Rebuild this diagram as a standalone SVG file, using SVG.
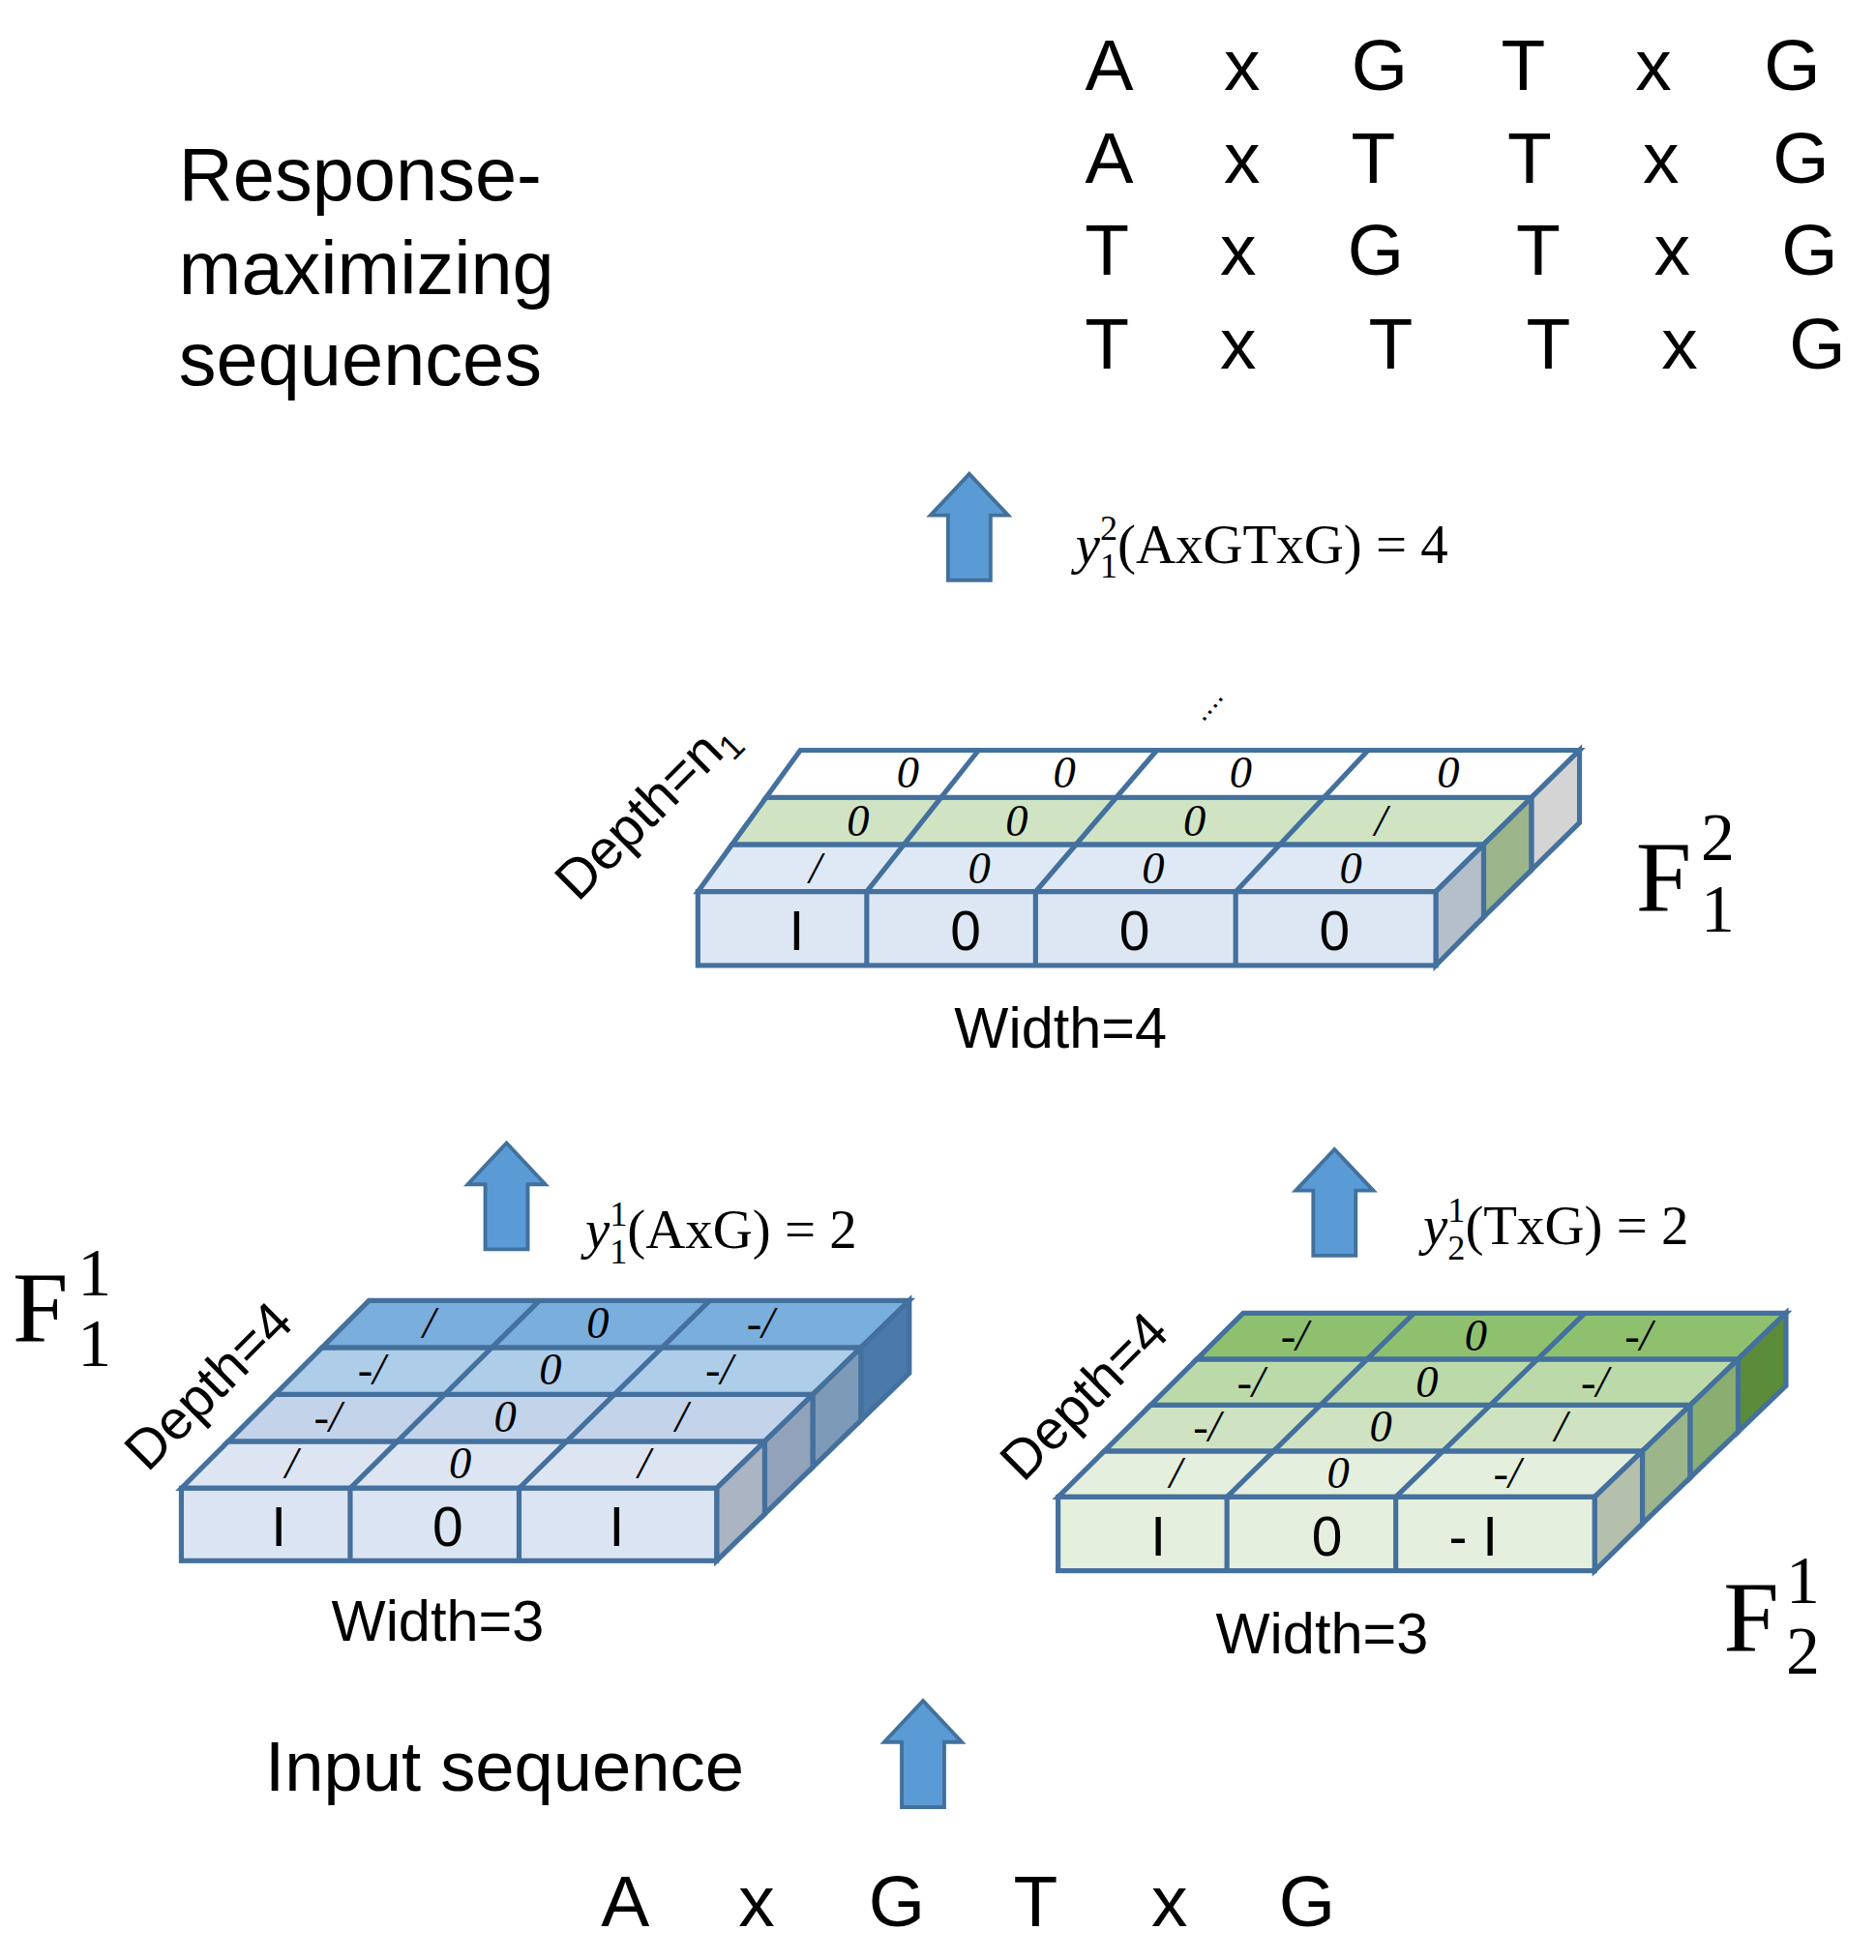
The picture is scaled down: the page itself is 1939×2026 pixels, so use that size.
<svg xmlns="http://www.w3.org/2000/svg" xmlns:xlink="http://www.w3.org/1999/xlink" width="1939" height="2026" viewBox="0 0 1939 2026">
<style>
.s{font-family:"Liberation Sans",Arial,sans-serif;fill:#000}
.m{font-family:"Liberation Serif","Times New Roman",serif;fill:#000}
.e{stroke:#44709e;stroke-width:4;stroke-linejoin:miter}
.v{font-family:"Liberation Serif",serif;font-style:italic;font-size:36px;text-anchor:middle}
.fr{font-family:"Liberation Sans",sans-serif;font-size:44px;text-anchor:middle}
.arr{fill:#5b9bd5;stroke:#41719c;stroke-width:3}
</style>
<defs>
<path id="ar" d="M0,0 L31,33 L17,33 L17,85 L-17,85 L-17,33 L-31,33 Z"/>
</defs>
<rect width="1939" height="2026" fill="#fff"/>
<g transform="scale(1.2927)">
<g id="top-text">
<text class="s" font-size="60" x="143" y="160">Response-</text>
<text class="s" font-size="60" x="143" y="235">maximizing</text>
<text class="s" font-size="60" x="143" y="308">sequences</text>
<g class="s" font-size="58" text-anchor="middle">
<text x="887" y="72">A</text><text x="993" y="72">x</text><text x="1103" y="72">G</text><text x="1218" y="72">T</text><text x="1322" y="72">x</text><text x="1433" y="72">G</text>
<text x="887" y="146">A</text><text x="993" y="146">x</text><text x="1098" y="146">T</text><text x="1223" y="146">T</text><text x="1328" y="146">x</text><text x="1440" y="146">G</text>
<text x="885" y="220">T</text><text x="990" y="220">x</text><text x="1100" y="220">G</text><text x="1230" y="220">T</text><text x="1337" y="220">x</text><text x="1447" y="220">G</text>
<text x="885" y="295">T</text><text x="990" y="295">x</text><text x="1112" y="295">T</text><text x="1238" y="295">T</text><text x="1343" y="295">x</text><text x="1453" y="295">G</text>
</g>
</g>
<g id="connectors">
<use xlink:href="#ar" class="arr" transform="translate(775,379)"/>
<use xlink:href="#ar" class="arr" transform="translate(405,914)"/>
<use xlink:href="#ar" class="arr" transform="translate(1067,919)"/>
<use xlink:href="#ar" class="arr" transform="translate(738,1360)"/>
</g>
<g id="labels-math" class="m">
<text x="860" y="450" font-size="44"><tspan font-style="italic">y</tspan><tspan font-size="28" dy="-18">2</tspan><tspan font-size="28" dx="-14" dy="30">1</tspan><tspan dy="-12">(AxGTxG) = 4</tspan></text>
<text x="468" y="998" font-size="44"><tspan font-style="italic">y</tspan><tspan font-size="28" dy="-18">1</tspan><tspan font-size="28" dx="-14" dy="30">1</tspan><tspan dy="-12">(AxG) = 2</tspan></text>
<text x="1138" y="995" font-size="44"><tspan font-style="italic">y</tspan><tspan font-size="28" dy="-18">1</tspan><tspan font-size="28" dx="-14" dy="30">2</tspan><tspan dy="-12">(TxG) = 2</tspan></text>
</g>
<g id="F12">
<polygon class="e" fill="#dfe9f5" points="558,713 1148,713 1186.3,675.3 585.3,675.3"/>
<polygon class="e" fill="#d0e4c4" points="585.3,675.3 1186.3,675.3 1224.6,637.6 612.6,637.6"/>
<polygon class="e" fill="#ffffff" points="612.6,637.6 1224.6,637.6 1262.9,599.9 639.9,599.9"/>
<polygon class="e" fill="#b4bfca" points="1148,713 1186.3,675.3 1186.3,733.3 1148,772"/>
<polygon class="e" fill="#9db58b" points="1186.3,675.3 1224.6,637.6 1224.6,695.6 1186.3,733.3"/>
<polygon class="e" fill="#d4d4d4" points="1224.6,637.6 1262.9,599.9 1262.9,657.9 1224.6,695.6"/>
<g class="e" fill="none">
<path d="M693,713 L722.8,675.3 M828,713 L860.3,675.3 M988,713 L1023.3,675.3"/>
<path d="M722.8,675.3 L752.6,637.6 M860.3,675.3 L892.6,637.6 M1023.3,675.3 L1058.6,637.6"/>
<path d="M752.6,637.6 L782.4,599.9 M892.6,637.6 L925,599.9 M1058.6,637.6 L1093.9,599.9"/>
</g>
<rect class="e" fill="#dde7f3" x="558" y="713" width="590" height="59"/>
<path class="e" d="M693,713 V772 M828,713 V772 M988,713 V772"/>
<g class="fr"><text x="637" y="760">I</text><text x="772" y="760">0</text><text x="907" y="760">0</text><text x="1067" y="760">0</text></g>
<g class="v">
<text x="652" y="706">/</text><text x="783" y="706">0</text><text x="922" y="706">0</text><text x="1080" y="706">0</text>
<text x="686" y="668">0</text><text x="813" y="668">0</text><text x="955" y="668">0</text><text x="1104" y="668">/</text>
<text x="726" y="630">0</text><text x="851" y="630">0</text><text x="992" y="630">0</text><text x="1158" y="630">0</text>
</g>
<text class="s" font-size="24" x="0" y="0" transform="translate(962,578) rotate(-50)">....</text>
<text class="s" font-size="44" transform="translate(462,722) rotate(-45)">Depth=n<tspan font-size="28" dy="8">1</tspan></text>
<text class="s" font-size="46" x="848" y="838" text-anchor="middle">Width=4</text>
<text class="m" font-size="80" x="1308" y="728">F</text>
<text class="m" font-size="54" x="1360" y="688">2</text>
<text class="m" font-size="54" x="1360" y="745">1</text>
</g>
<g id="F11">
<polygon class="e" fill="#dde5f2" points="145,1190 573,1190 611.5,1152.5 182.5,1152.5"/>
<polygon class="e" fill="#c3d3ea" points="182.5,1152.5 611.5,1152.5 650,1115 220,1115"/>
<polygon class="e" fill="#aecde9" points="220,1115 650,1115 688.5,1077.5 257.5,1077.5"/>
<polygon class="e" fill="#7aaedc" points="257.5,1077.5 688.5,1077.5 727,1040 295,1040"/>
<polygon class="e" fill="#aab4c3" points="573,1190 611.5,1152.5 611.5,1210.5 573,1248"/>
<polygon class="e" fill="#92a2bb" points="611.5,1152.5 650,1115 650,1173 611.5,1210.5"/>
<polygon class="e" fill="#7d9bb8" points="650,1115 688.5,1077.5 688.5,1135.5 650,1173"/>
<polygon class="e" fill="#4a7aaa" points="688.5,1077.5 727,1040 727,1098 688.5,1135.5"/>
<path class="e" fill="none" d="M280,1190 L317.8,1152.5 L355.6,1115 L393.4,1077.5 L431.3,1040 M415,1190 L453.1,1152.5 L491.2,1115 L529.4,1077.5 L567.5,1040"/>
<rect class="e" fill="#dbe4f2" x="145" y="1190" width="428" height="58"/>
<path class="e" d="M280,1190 V1248 M415,1190 V1248"/>
<g class="fr"><text x="223" y="1236">I</text><text x="358" y="1236">0</text><text x="493" y="1236">I</text></g>
<g class="v">
<text x="233" y="1182">/</text><text x="368" y="1182">0</text><text x="515" y="1182">/</text>
<text x="262" y="1145">-/</text><text x="404" y="1145">0</text><text x="545" y="1145">/</text>
<text x="297" y="1107">-/</text><text x="440" y="1107">0</text><text x="575" y="1107">-/</text>
<text x="343" y="1070">/</text><text x="478" y="1070">0</text><text x="608" y="1070">-/</text>
</g>
<text class="s" font-size="44" transform="translate(118,1178) rotate(-45)">Depth=4</text>
<text class="s" font-size="46" x="350" y="1312" text-anchor="middle">Width=3</text>
<text class="m" font-size="80" x="10" y="1072">F</text>
<text class="m" font-size="54" x="62" y="1036">1</text>
<text class="m" font-size="54" x="62" y="1092">1</text>
</g>
<g id="F21">
<polygon class="e" fill="#e5efdd" points="846,1197 1275,1197 1313.25,1160.25 883,1160.25"/>
<polygon class="e" fill="#cfe3c2" points="883,1160.25 1313.25,1160.25 1351.5,1123.5 920,1123.5"/>
<polygon class="e" fill="#bcdaa9" points="920,1123.5 1351.5,1123.5 1389.75,1086.75 957,1086.75"/>
<polygon class="e" fill="#8fc06e" points="957,1086.75 1389.75,1086.75 1428,1050 994,1050"/>
<polygon class="e" fill="#b4c0ab" points="1275,1197 1313.25,1160.25 1313.25,1218.25 1275,1256"/>
<polygon class="e" fill="#9cb58a" points="1313.25,1160.25 1351.5,1123.5 1351.5,1181.5 1313.25,1218.25"/>
<polygon class="e" fill="#8aad72" points="1351.5,1123.5 1389.75,1086.75 1389.75,1144.75 1351.5,1181.5"/>
<polygon class="e" fill="#5a8c3a" points="1389.75,1086.75 1428,1050 1428,1108 1389.75,1144.75"/>
<path class="e" fill="none" d="M981,1197 L1018.4,1160.25 L1055.8,1123.5 L1093.2,1086.75 L1130.6,1050 M1116,1197 L1153.8,1160.25 L1191.6,1123.5 L1229.4,1086.75 L1267.2,1050"/>
<rect class="e" fill="#e5efdd" x="846" y="1197" width="429" height="59"/>
<path class="e" d="M981,1197 V1256 M1116,1197 V1256"/>
<g class="fr"><text x="926" y="1244">I</text><text x="1061" y="1244">0</text><text x="1178" y="1244">- I</text></g>
<g class="v">
<text x="940" y="1190">/</text><text x="1070" y="1190">0</text><text x="1205" y="1190">-/</text>
<text x="965" y="1153">-/</text><text x="1104" y="1153">0</text><text x="1248" y="1153">/</text>
<text x="1000" y="1117">-/</text><text x="1141" y="1117">0</text><text x="1275" y="1117">-/</text>
<text x="1035" y="1080">-/</text><text x="1180" y="1080">0</text><text x="1310" y="1080">-/</text>
</g>
<text class="s" font-size="44" transform="translate(818,1186) rotate(-45)">Depth=4</text>
<text class="s" font-size="46" x="1057" y="1322" text-anchor="middle">Width=3</text>
<text class="m" font-size="80" x="1378" y="1320">F</text>
<text class="m" font-size="54" x="1428" y="1282">1</text>
<text class="m" font-size="54" x="1428" y="1338">2</text>
</g>
<g id="input">
<text class="s" font-size="56" x="212" y="1432">Input sequence</text>
<g class="s" font-size="58" text-anchor="middle">
<text x="500" y="1540">A</text><text x="605" y="1540">x</text><text x="717" y="1540">G</text><text x="828" y="1540">T</text><text x="935" y="1540">x</text><text x="1045" y="1540">G</text>
</g>
</g>
</g>
</svg>
